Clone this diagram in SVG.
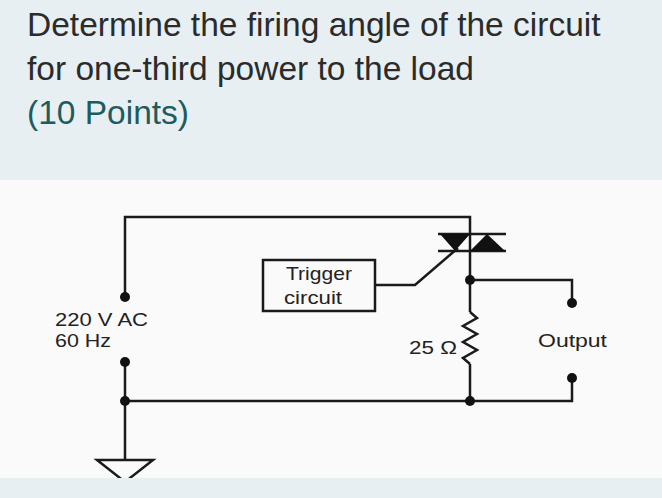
<svg xmlns="http://www.w3.org/2000/svg" width="662" height="498" viewBox="0 0 662 498">
<style>
.w{fill:none;stroke:#1a1a1a;stroke-width:2.5}
.d{fill:#111}
.h{font-family:"Liberation Sans",Arial,sans-serif;font-size:33.5px;fill:#2b2b2b}
.l{font-family:"Liberation Sans",Arial,sans-serif;font-size:19px;fill:#222}
</style>
<rect width="662" height="498" fill="#fafafa"/>
<rect width="662" height="180" fill="#e7eff3"/>
<text class="h" x="27" y="36">Determine the firing angle of the circuit</text>
<text class="h" x="27" y="80">for one-third power to the load</text>
<text class="h" x="27" y="124" style="fill:#1d5c5e">(10 Points)</text>
<g id="connectors">
<path class="w" d="M125,297 V217 H470 V401 H125 M125,362 V460"/>
<path class="w" d="M470,280 H572 V303 M572,378 V401 H470"/>
<path class="w" d="M375,285 H415 L458,248"/>
</g>
<g id="source">
<circle class="d" cx="125" cy="297" r="5"/><circle class="d" cx="125" cy="362" r="5"/>
<circle class="d" cx="125" cy="401" r="5"/>
<text class="l" x="55" y="326" textLength="93" lengthAdjust="spacingAndGlyphs">220 V AC</text><text class="l" x="55" y="347" textLength="56" lengthAdjust="spacingAndGlyphs">60 Hz</text>
</g>
<g id="ground"><path class="w" d="M97,460 H153 L125,482 Z" fill="#fafafa"/></g>
<g id="triac">
<path class="w" d="M438,234 H506 M438,251 H506"/>
<path class="d" d="M440,234 H470 L455,251 Z M470,251 H505 L487,234 Z"/>
</g>
<g id="trigger"><rect class="w" x="263" y="260" width="112" height="51" fill="#fafafa"/>
<text class="l" x="286" y="280" textLength="66" lengthAdjust="spacingAndGlyphs">Trigger</text><text class="l" x="284" y="304" textLength="58" lengthAdjust="spacingAndGlyphs">circuit</text></g>
<g id="resistor">
<rect x="462" y="312" width="16" height="52" fill="#fafafa"/>
<path class="w" d="M470,312 L477,318 L463,326 L477,334 L463,342 L477,350 L463,358 L470,364"/>
<text class="l" x="409" y="354" textLength="48" lengthAdjust="spacingAndGlyphs">25 Ω</text></g>
<g id="output"><circle class="d" cx="470" cy="280" r="5"/><circle class="d" cx="470" cy="401" r="5"/>
<circle class="d" cx="572" cy="303" r="5"/><circle class="d" cx="572" cy="378" r="5"/>
<text class="l" x="538" y="347" textLength="69" lengthAdjust="spacingAndGlyphs">Output</text></g>
<rect y="478" width="662" height="20" fill="#e7eff3"/>
</svg>
